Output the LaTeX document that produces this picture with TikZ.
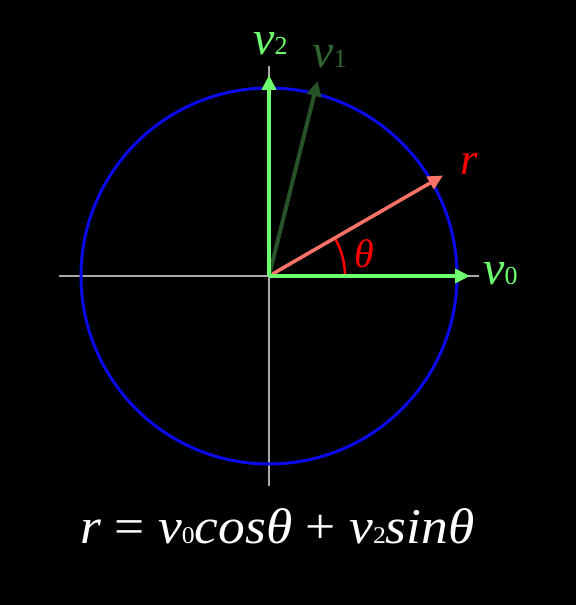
\documentclass[tikz,border=0pt]{standalone}
\usepackage{fontspec}
\setmainfont{Liberation Serif}
\usetikzlibrary{arrows.meta}

\definecolor{vecgreen}{RGB}{110,255,110}
\definecolor{vecdark}{RGB}{38,82,38}
\definecolor{labdark}{RGB}{48,100,48}
\definecolor{rsalmon}{RGB}{250,115,105}
\definecolor{circblue}{RGB}{10,10,235}
\definecolor{axisgray}{RGB}{170,170,170}

%small upright index set close to the baseline
\newcommand{\idx}[2]{{\fontsize{#1}{#1}\selectfont\upshape #2}}

\tikzset{
	vec/.style={line width=4pt,-{Triangle[length=15pt,width=14pt]}},
	lab/.style={font=\fontsize{48}{48}\selectfont\itshape,anchor=base west,inner sep=0pt},
}

\begin{document}
\begin{tikzpicture}[x=1pt,y=1pt]
	%Define the sizes
	%circle has radius \R, vectors length \L, axes half length \A
	%r makes angle \ang, v_1 makes angle \vang
	\pgfmathsetmacro{\R}{188}
	\pgfmathsetmacro{\L}{201}
	\pgfmathsetmacro{\A}{210}
	\pgfmathsetmacro{\ang}{30}
	\pgfmathsetmacro{\vang}{76}

	%Background and frame
	\fill[black] (-269,-329) rectangle (307,276);
	\useasboundingbox (-269,-329) rectangle (307,276);

	\coordinate (O) at (0,0);
	\coordinate (ax_l) at (-\A,0);
	\coordinate (ax_r) at (\A,0);
	\coordinate (ax_b) at (0,-\A);
	\coordinate (ax_t) at (0,\A);
	\coordinate (v0) at (\L,0);
	\coordinate (v2) at (0,\L);
	\coordinate (v1) at (\vang:\L);
	\coordinate (rr) at (\ang:\L);

	%Axes and circle
	\draw[axisgray,line width=1.5pt] (ax_l) -- (ax_r);
	\draw[axisgray,line width=1.5pt] (ax_b) -- (ax_t);
	\draw[circblue,line width=3pt] (O) circle (\R);

	%Angle theta
	\draw[red,line width=2.5pt] (76,0) arc (0:\ang:76);

	%Vectors
	\draw[vec,rsalmon,line width=3.5pt] (O) -- (rr);
	\draw[vec,vecdark] (O) -- (v1);
	\draw[vec,vecgreen] (O) -- (v0);
	\draw[vec,vecgreen] (O) -- (v2);

	%Labels
	\node[lab,vecgreen] (l_v2) at (-16,221) {v\idx{26}{2}};
	\node[lab,labdark] (l_v1) at (43,208) {v\idx{26}{1}};
	\node[lab,vecgreen] (l_v0) at (214,-9) {v\idx{26}{0}};
	\node[lab,red,font=\fontsize{45}{45}\selectfont\itshape] (l_r) at (191,101) {r};
	\node[lab,red,font=\fontsize{40}{40}\selectfont\itshape] (l_th) at (85,9) {θ};

	%Formula
	\node[lab,white,anchor=base,font=\fontsize{50}{50}\selectfont\itshape] (formula) at (8.5,-267)
		{\scalebox{1.07}[1]{r {\upshape=} v\idx{24}{0}cosθ {\upshape+} v\idx{24}{2}sinθ}};
\end{tikzpicture}
\end{document}
